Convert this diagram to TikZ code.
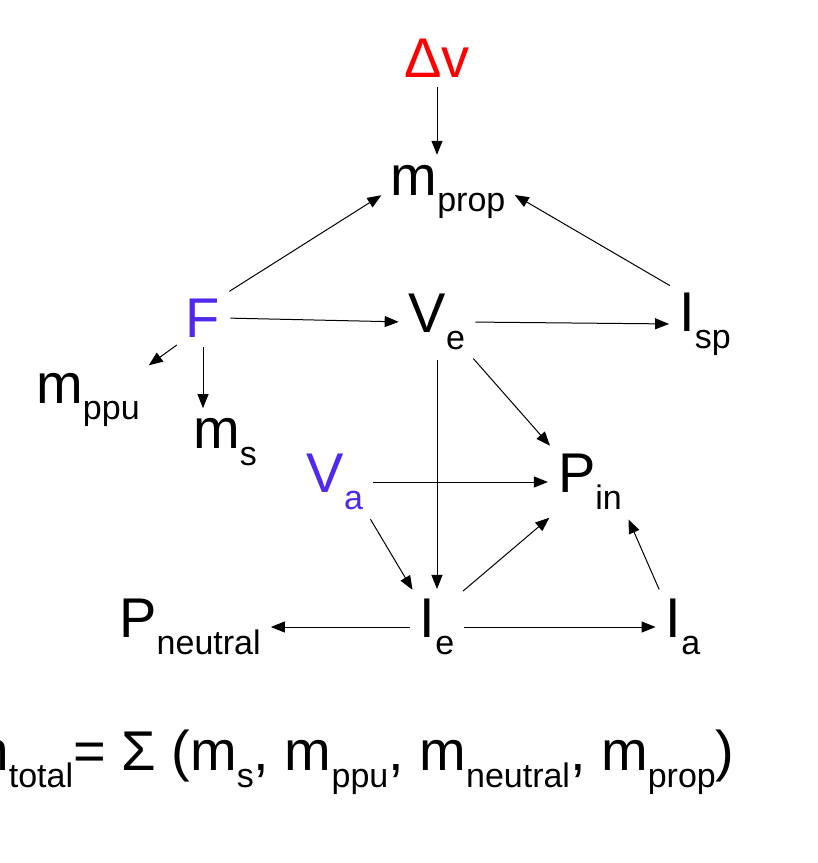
\documentclass[tikz,border=0pt]{standalone}
\usepackage{fontspec}
\setmainfont{Liberation Sans}
\usetikzlibrary{arrows.meta}
\definecolor{fblue}{RGB}{80,40,240}
\newcommand{\sbs}[1]{\raisebox{-0.3em}{\fontsize{34}{38}\selectfont #1}}
\begin{document}
\begin{tikzpicture}[x=1pt,y=-1pt,
  lbl/.style={font=\fontsize{56}{62}\selectfont, inner sep=4pt},
  arr/.style={-{Triangle[length=14pt,width=11pt]}, line width=1pt, shorten <=6pt, shorten >=6pt}]
\useasboundingbox (0,0) rectangle (818,863);
\node[lbl,text=red] (dv) at (437,58) {Δv};
\node[lbl] (mp) at (448,192) {m\sbs{prop}};
\node[lbl,text=fblue] (F) at (203,318) {F};
\node[lbl] (Ve) at (437,322) {V\sbs{e}};
\node[lbl] (Isp) at (705,324) {I\sbs{sp}};
\node[lbl] (mppu) at (88,400) {m\sbs{ppu}};
\node[lbl] (ms) at (225,442) {m\sbs{s}};
\node[lbl,text=fblue] (Va) at (335,482) {V\sbs{a}};
\node[lbl] (Pin) at (590,482) {P\sbs{in}};
\node[lbl] (Pn) at (190,627) {P\sbs{neutral}};
\node[lbl] (Ie) at (437,627) {I\sbs{e}};
\node[lbl] (Ia) at (683,627) {I\sbs{a}};
\node[lbl,anchor=west] (tot) at (-42,762) {m\sbs{total}= Σ (m\sbs{s}, m\sbs{ppu}, m\sbs{neutral}, m\sbs{prop})};
\draw[arr] (dv) -- (dv|-mp.north);
\draw[arr] (F.north east) -- (mp.west);
\draw[arr] (Isp.north west) -- (mp.east);
\draw[arr] (F.east) -- (Ve.west);
\draw[arr] (Ve.east) -- (Isp.west);
\draw[arr] (F.south west) -- (mppu.north east);
\draw[arr] (F.south) -- (F|-ms.north);
\draw[arr] (Ve.south east) -- (Pin.north west);
\draw[arr] (Ve.south) -- (Ie.north);
\draw[arr] (Va.east) -- (Pin.west);
\draw[arr] (Va.south east) -- (Ie.north west);
\draw[arr] (Ie.north east) -- (Pin.south west);
\draw[arr] (Ia.north west) -- (Pin.south east);
\draw[arr] (Ie.west) -- (Pn.east);
\draw[arr] (Ie.east) -- (Ia.west);
\end{tikzpicture}
\end{document}
